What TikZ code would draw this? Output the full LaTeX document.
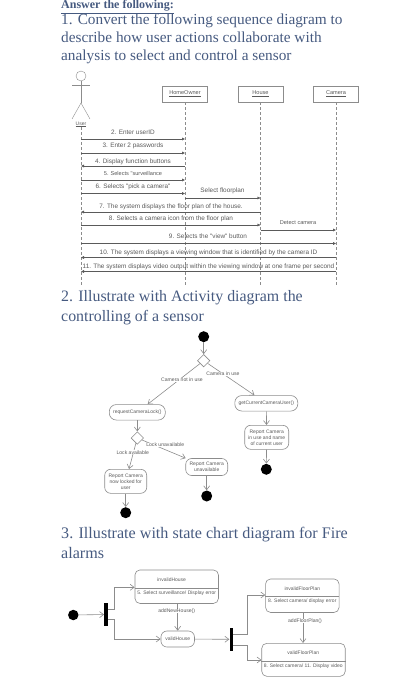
\documentclass[tikz,border=0pt]{standalone}
\usepackage{fontspec}
\setmainfont{Liberation Serif}
\newfontfamily\labelfont{Liberation Sans}
\usetikzlibrary{arrows.meta,shapes.geometric}
\definecolor{headblue}{HTML}{465A80}
\definecolor{linegray}{HTML}{8C8C8C}
\definecolor{textgray}{HTML}{5A5A5A}

\begin{document}
\begin{tikzpicture}[
        x=1pt, y=-1pt,
        head/.style={anchor=base west, inner sep=0pt, text=headblue, font=\fontsize{15.3}{18}\selectfont},
        headb/.style={head, font=\fontsize{15.9}{18}\selectfont},
        lifeobj/.style={draw=linegray, minimum width=45pt, minimum height=16pt, inner sep=0pt, text=textgray, font=\labelfont\fontsize{5.6}{6}\selectfont},
        lifeline/.style={densely dashed, draw=linegray, thin},
        msg/.style={draw=textgray, thin, -{Latex[length=3pt,width=3pt]}},
        msgtxt/.style={inner sep=0pt, text=textgray, font=\labelfont\fontsize{6.4}{7}\selectfont},
        action/.style={draw=linegray, line width=.6pt, rounded corners=6pt, align=center, inner sep=0pt, text=textgray, font=\labelfont\fontsize{5}{6}\selectfont},
        decide/.style={draw=linegray, line width=.6pt, fill=white, diamond, minimum size=12.5pt, inner sep=0pt},
        startdot/.style={circle, fill=black, minimum size=11pt, inner sep=0pt},
        flow/.style={draw=linegray, line width=.6pt, -{Straight Barb[length=4pt,width=6pt]}},
        flowtxt/.style={inner sep=0pt, text=textgray, font=\labelfont\fontsize{5.1}{6}\selectfont},
        statebox/.style={draw=linegray, line width=.6pt, rounded corners=5pt, inner sep=0pt},
        statetxt/.style={inner sep=0pt, text=textgray, font=\labelfont\fontsize{5}{6}\selectfont},
        forkbar/.style={fill=black, minimum width=3.5pt, minimum height=22.5pt, inner sep=0pt}
    ]
        \useasboundingbox (0,0) rectangle (411,700);

        % headings
        \node[anchor=base west, inner sep=0pt, text=headblue, font=\bfseries\fontsize{12}{15}\selectfont] (answer) at (61,9) {\underline{Answer the following:}};
        \node[head] (q1a) at (61,25) {1. Convert the following sequence diagram to};
        \node[head] (q1b) at (61,43) {describe how user actions collaborate with};
        \node[head] (q1c) at (61,61) {analysis to select and control a sensor};
        \node[headb] (q2a) at (61,301) {2. Illustrate with Activity diagram the};
        \node[headb] (q2b) at (61,321) {controlling of a sensor};
        \node[headb, font=\fontsize{16.1}{18}\selectfont] (q3a) at (61,538) {3. Illustrate with state chart diagram for Fire};
        \node[headb, font=\fontsize{16.1}{18}\selectfont] (q3b) at (61,558) {alarms};

        % sequence diagram
        \draw[linegray] (81,76) circle (5pt);
        \coordinate (neck) at (81,81);
        \coordinate (hip) at (81,103);
        \draw[linegray] (neck) -- (hip);
        \draw[linegray] (72,85) -- (90,85);
        \draw[linegray] (72,119) -- (hip) -- (90,119);
        \node[msgtxt, font=\labelfont\fontsize{5}{6}\selectfont] (user) at (81,124.5) {\underline{User}};
        \node[lifeobj] (owner) at (185,94) {\underline{HomeOwner}};
        \node[lifeobj] (house) at (260.5,94) {\underline{House}};
        \node[lifeobj] (camera) at (336,94) {\underline{Camera}};
        \coordinate (ownerend) at (185,285);
        \coordinate (houseend) at (260.5,285);
        \coordinate (cameraend) at (336,285);
        \coordinate (userend) at (81,285);
        \draw[lifeline] (user) -- (userend);
        \draw[lifeline] (owner) -- (ownerend);
        \draw[lifeline] (house) -- (houseend);
        \draw[lifeline] (camera) -- (cameraend);

        \node[msgtxt] (m2) at (133,132) {2. Enter userID};
        \node[msgtxt] (m3) at (133,145.5) {3. Enter 2 passwords};
        \node[msgtxt] (m4) at (133,162) {4. Display function buttons};
        \node[msgtxt, font=\labelfont\fontsize{5.6}{6}\selectfont] (m5) at (133,173) {5. Selects "surveillance};
        \node[msgtxt] (m6) at (133,186.5) {6. Selects "pick a camera"};
        \node[msgtxt] (mf) at (222.5,191) {Select floorplan};
        \node[msgtxt] (m7) at (171,207) {7. The system displays the floor plan of the house.};
        \node[msgtxt] (m8) at (171,219) {8. Selects a camera icon from the floor plan};
        \node[msgtxt, font=\labelfont\fontsize{5.6}{6}\selectfont] (md) at (298,223) {Detect camera};
        \node[msgtxt] (m9) at (208,236.5) {9. Selects the "view" button};
        \node[msgtxt] (m10) at (208.5,252.5) {10. The system displays a viewing window that is identified by the camera ID};
        \node[msgtxt] (m11) at (208.5,266.5) {11. The system displays video output within the viewing window at one frame per second};

        \draw[msg] (user |- 0,139) -- (owner |- 0,139);
        \draw[msg] (user |- 0,153) -- (owner |- 0,153);
        \draw[msg] (owner |- 0,166) -- (user |- 0,166);
        \draw[msg] (user |- 0,180) -- (owner |- 0,180);
        \draw[msg] (user |- 0,193.5) -- (owner |- 0,193.5);
        \draw[msg] (owner |- 0,198) -- (house |- 0,198);
        \draw[msg] (house |- 0,212) -- (user |- 0,212);
        \draw[msg] (user |- 0,225) -- (house |- 0,225);
        \draw[msg] (house |- 0,230) -- (camera |- 0,230);
        \draw[msg] (user |- 0,243.5) -- (camera |- 0,243.5);
        \draw[msg] (camera |- 0,257.5) -- (user |- 0,257.5);
        \draw[msg] (camera |- 0,271.5) -- (user |- 0,271.5);

        % activity diagram
        \node[startdot] (a0) at (203.7,336.7) {};
        \node[decide] (d1) at (203.7,360.7) {};
        \node[action, minimum width=56pt, minimum height=15.5pt, rounded corners=7pt] (lockreq) at (137.3,412.3) {requestCameraLock()};
        \node[action, minimum width=63pt, minimum height=15.5pt, rounded corners=7pt] (curuser) at (266.3,403.3) {getCurrentCameraUser()};
        \node[action, minimum width=44pt, minimum height=24pt] (inuse) at (266.7,437.3) {Report Camera\\in use and name\\of current user};
        \node[startdot] (e1) at (266.3,469.3) {};
        \node[decide] (d2) at (137.3,438) {};
        \node[action, minimum width=42pt, minimum height=17pt] (unavail) at (206.7,467) {Report Camera\\unavailable};
        \node[startdot] (e2) at (206.7,496) {};
        \node[action, minimum width=42pt, minimum height=24pt] (locked) at (125.7,481.3) {Report Camera\\now locked for\\user};
        \node[startdot] (e3) at (125.7,512.7) {};

        \draw[flow] (a0) -- (d1);
        \draw[flow] (d1) -- (lockreq);
        \draw[flow] (d1) -- (curuser);
        \draw[flow] (lockreq) -- (d2);
        \draw[flow] (curuser) -- (inuse);
        \draw[flow] (inuse) -- (e1);
        \draw[flow] (d2) -- (locked);
        \draw[flow] (d2) -- (unavail);
        \draw[flow] (locked) -- (e3);
        \draw[flow] (unavail) -- (e2);

        \node[flowtxt, fill=white] (l1) at (182,380) {Camera not in use};
        \node[flowtxt, fill=white] (l2) at (223,374) {Camera in use};
        \node[flowtxt, fill=white] (l3) at (132.7,452.3) {Lock available};
        \node[flowtxt, fill=white] (l4) at (165.3,444.7) {Lock unavailable};

        % state chart
        \node[startdot, minimum size=10.5pt] (s0) at (73.3,615) {};
        \node[forkbar] (bar1) at (106,614.5) {};
        \node[statebox, minimum width=83.5pt, minimum height=33.5pt] (invhouse) at (176.7,586.7) {};
        \node[statebox, minimum width=33.5pt, minimum height=16pt, rounded corners=6pt] (valhouse) at (177.7,639) {};
        \node[forkbar] (bar2) at (231.3,639.3) {};
        \node[statebox, minimum width=73.5pt, minimum height=33.5pt] (invplan) at (302.3,595.7) {};
        \node[statebox, minimum width=83.5pt, minimum height=33pt] (valplan) at (303.5,659.8) {};
        \draw[linegray] (invhouse.west |- 0,588) -- (invhouse.east |- 0,588);
        \draw[linegray] (invplan.west |- 0,595.7) -- (invplan.east |- 0,595.7);
        \draw[linegray] (valplan.west |- 0,660.7) -- (valplan.east |- 0,660.7);

        \node[statetxt] (t1) at (171.7,580) {invalidHouse};
        \node[statetxt] (t2) at (176.7,593) {5. Select surveillance/ Display error};
        \node[statetxt] (t3) at (177.7,639) {validHouse};
        \node[statetxt] (t4) at (302.3,589) {invalidFloorPlan};
        \node[statetxt] (t5) at (302.3,601.3) {8. Select camera/ display error};
        \node[statetxt] (t6) at (303.3,653) {validFloorPlan};
        \node[statetxt] (t7) at (303.3,665.7) {8. Select camera/ 11. Display video};

        \draw[flow] (s0) -- (bar1);
        \draw[flow] (bar1.east |- 0,609) -| (114,587.3) -- (invhouse.west |- 0,587.3);
        \draw[flow] (bar1.east |- 0,619.5) -| (114,639) -- (valhouse.west |- 0,639);
        \draw[flow] (invhouse.south -| valhouse) -- (valhouse);
        \draw[flow] (valhouse) -- (bar2);
        \draw[flow] (bar2.east |- 0,634) -| (247,595) -- (invplan.west |- 0,595);
        \draw[flow] (bar2.east |- 0,645) -| (247,660) -- (valplan.west |- 0,660);
        \draw[flow] (invplan.south -| 303,0) -- (valplan.north -| 303,0);

        \node[flowtxt, fill=white] (l5) at (176.7,611) {addNewHouse()};
        \node[flowtxt, fill=white] (l6) at (305,621) {addFloorPlan()};
    \end{tikzpicture}
\end{document}
